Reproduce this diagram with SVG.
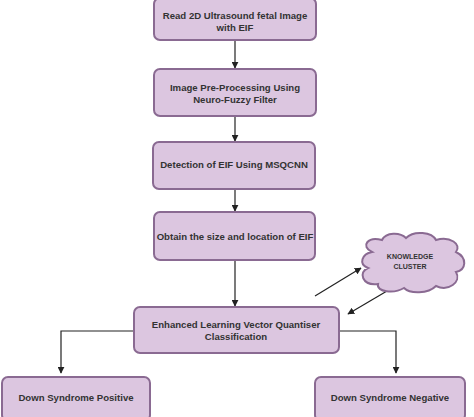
<svg xmlns="http://www.w3.org/2000/svg" width="474" height="417" viewBox="0 0 474 417">
<defs>
<style>
.box{fill:#dcc6e0;stroke:#8a6a92;stroke-width:2}
.t{font-family:"Liberation Sans",Arial,sans-serif;font-size:9.6px;font-weight:bold;fill:#333;text-anchor:middle}
.ts{font-family:"Liberation Sans",Arial,sans-serif;font-size:7px;font-weight:bold;fill:#333;text-anchor:middle}
.c{fill:none;stroke:#222;stroke-width:1.2}
</style>
<marker id="ah" viewBox="0 0 10 10" refX="9" refY="5" markerWidth="7" markerHeight="7" orient="auto" markerUnits="userSpaceOnUse">
<path d="M0,0 L10,5 L0,10 z" fill="#222"/>
</marker>
</defs>
<rect width="474" height="417" fill="#fff"/>
<g id="connectors">
<line class="c" x1="235" y1="40" x2="235" y2="68" marker-end="url(#ah)"/>
<line class="c" x1="235" y1="116" x2="235" y2="141" marker-end="url(#ah)"/>
<line class="c" x1="235" y1="189" x2="235" y2="211" marker-end="url(#ah)"/>
<line class="c" x1="235" y1="260" x2="235" y2="306" marker-end="url(#ah)"/>
<polyline class="c" points="134,331 61,331 61,373" marker-end="url(#ah)"/>
<polyline class="c" points="339,331 396,331 396,373" marker-end="url(#ah)"/>
<line class="c" x1="315" y1="296" x2="361" y2="268" marker-end="url(#ah)"/>
<line class="c" x1="387" y1="291" x2="348" y2="314" marker-end="url(#ah)"/>
</g>
<g id="n1">
<rect class="box" x="154" y="-2" width="162" height="42" rx="6"/>
<text class="t" x="235" y="19">Read 2D Ultrasound fetal Image</text>
<text class="t" x="235" y="31">with EIF</text>
</g>
<g id="n2">
<rect class="box" x="154" y="69" width="162" height="47" rx="6"/>
<text class="t" x="235" y="91">Image Pre-Processing Using</text>
<text class="t" x="235" y="103">Neuro-Fuzzy Filter</text>
</g>
<g id="n3">
<rect class="box" x="153" y="142" width="162" height="47" rx="6"/>
<text class="t" x="234" y="168">Detection of EIF Using MSQCNN</text>
</g>
<g id="n4">
<rect class="box" x="154" y="212" width="161" height="48" rx="6"/>
<text class="t" x="235" y="240">Obtain the size and location of EIF</text>
</g>
<g id="n5">
<rect class="box" x="134" y="307" width="205" height="46" rx="6"/>
<text class="t" x="236" y="328">Enhanced Learning Vector Quantiser</text>
<text class="t" x="236" y="340">Classification</text>
</g>
<g id="n6">
<rect class="box" x="2" y="377" width="148" height="44" rx="6"/>
<text class="t" x="76" y="401">Down Syndrome Positive</text>
</g>
<g id="n7">
<rect class="box" x="315" y="377" width="150" height="44" rx="6"/>
<text class="t" x="390" y="401">Down Syndrome Negative</text>
</g>
<g id="cloud">
<path class="box" d="M372,252 C360,246 368,236 382,240 C386,232 400,232 406,238 C414,230 432,232 436,240 C450,236 462,244 456,252 C468,258 466,270 456,272 C462,282 448,292 436,286 C428,294 410,294 404,288 C394,294 376,292 378,284 C362,286 358,272 368,268 C358,264 362,254 372,252 Z"/>
<text class="ts" x="410" y="259">KNOWLEDGE</text>
<text class="ts" x="410" y="269">CLUSTER</text>
</g>
</svg>
